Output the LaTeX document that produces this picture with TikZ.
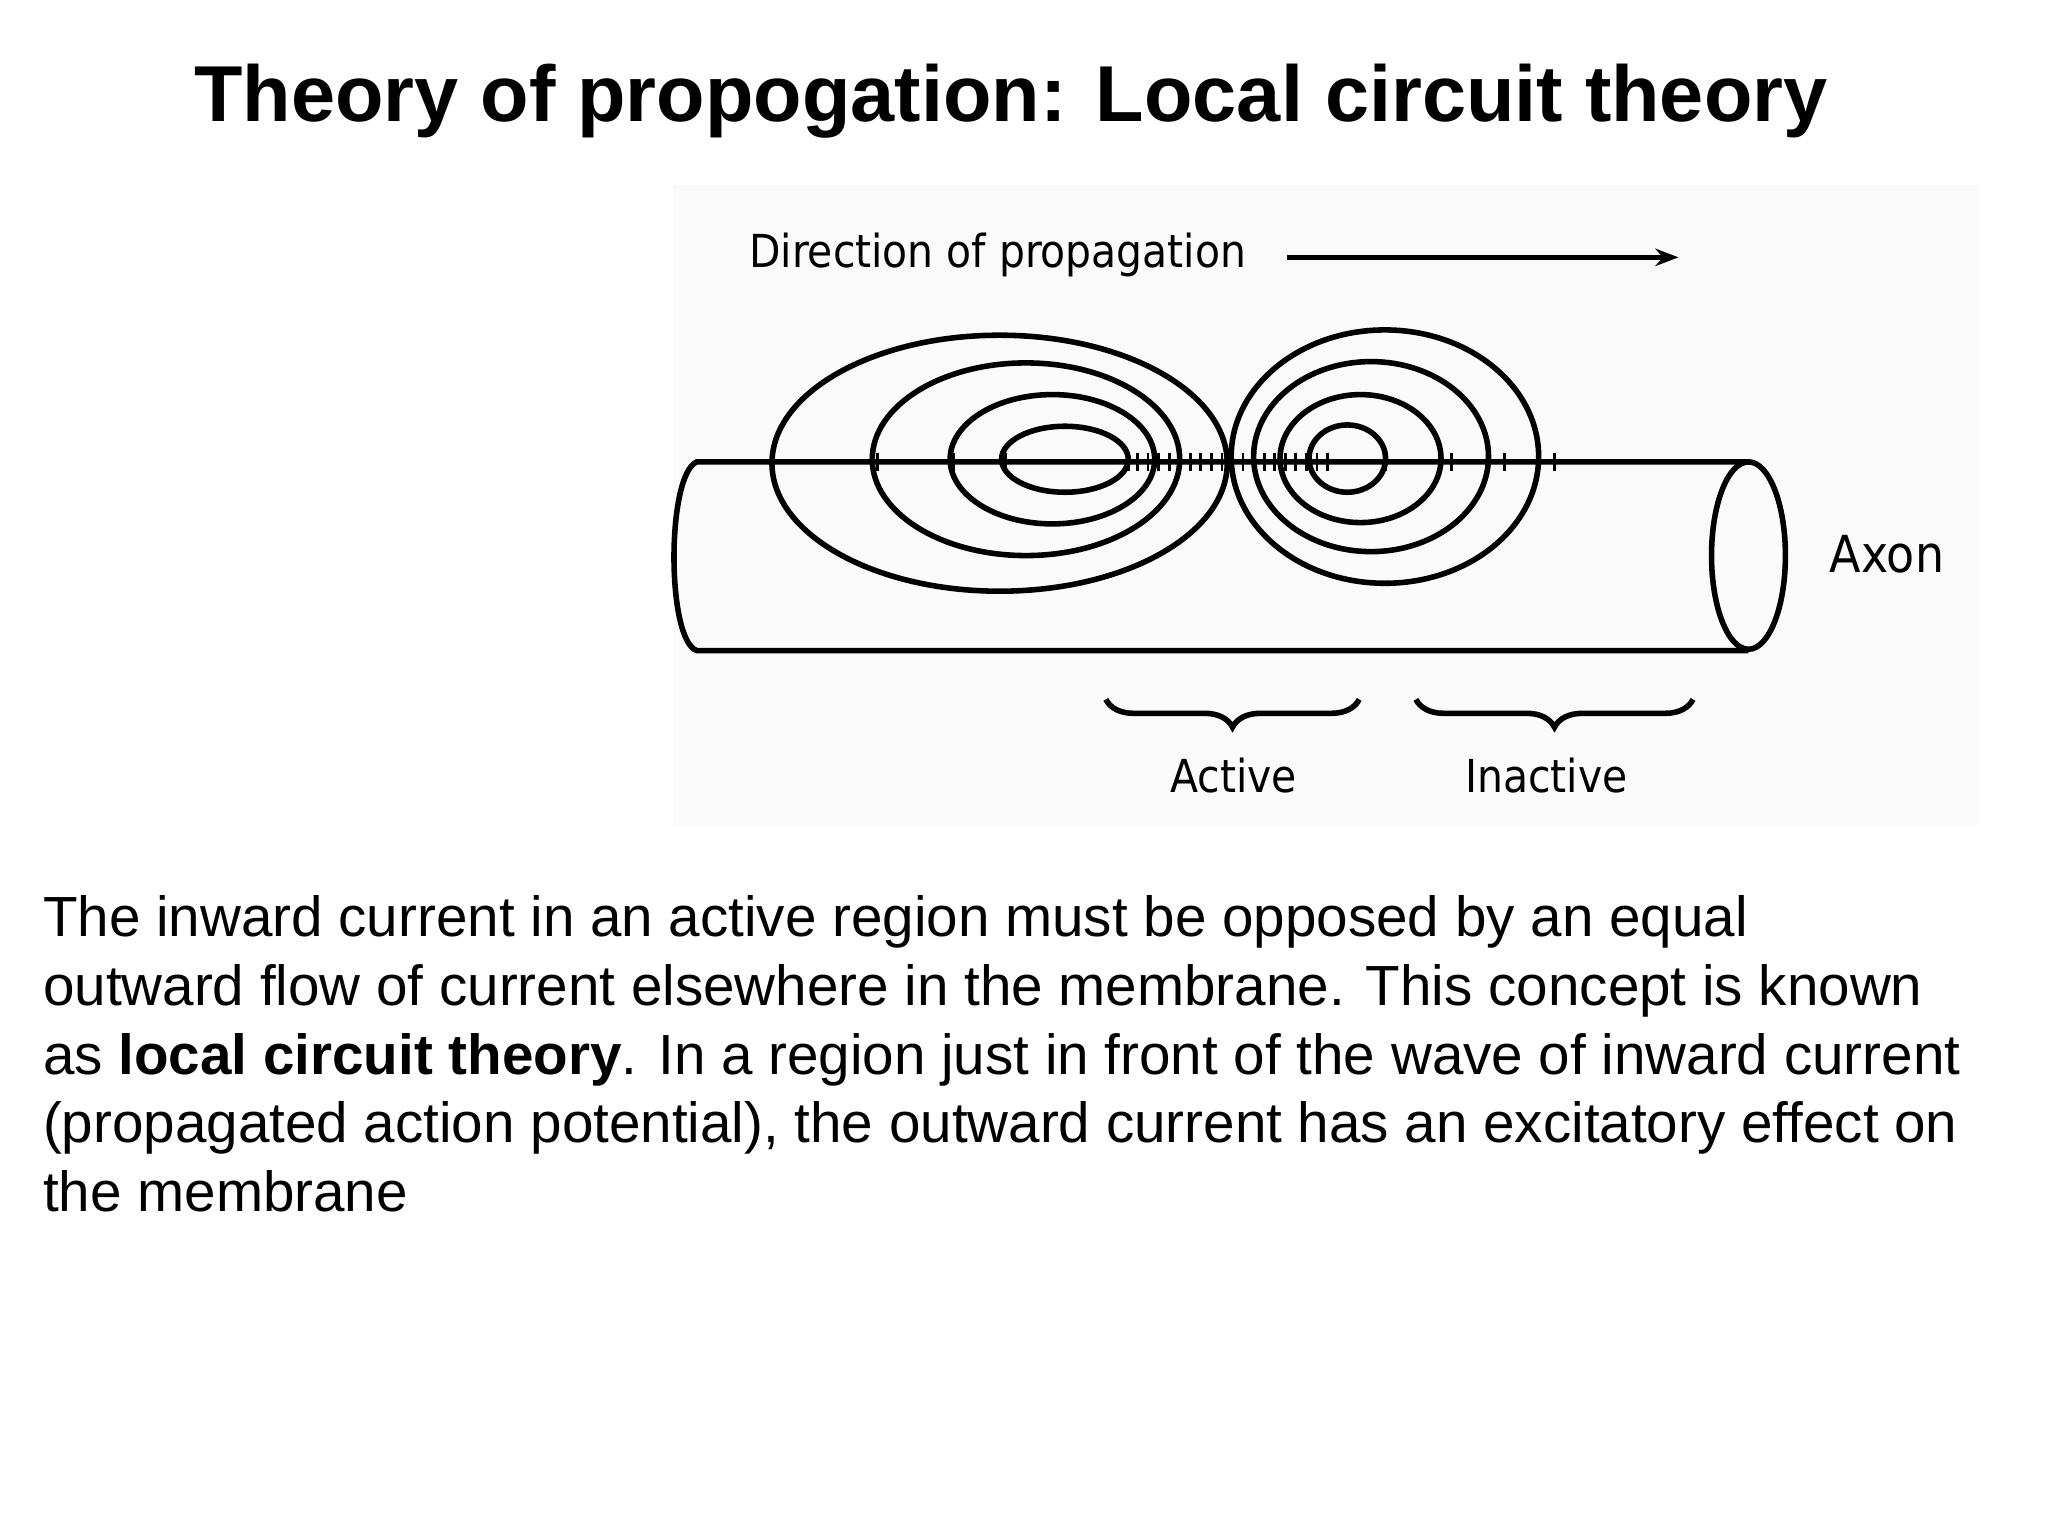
\documentclass[tikz,border=0pt]{standalone}
\usepackage{fontspec}
\setmainfont{Liberation Sans}
\newfontfamily\dia{DejaVu Sans Condensed}
\usetikzlibrary{decorations.pathreplacing,arrows.meta}
\tikzset{
 ln/.style={line width=1.2pt,black},
 body/.style={anchor=base west,inner sep=0pt,font=\fontsize{12.2}{14}\selectfont},
 lab/.style={inner sep=0pt,font=\dia\fontsize{9.8}{12}\selectfont},
 brc/.style={ln,decorate,decoration={brace,amplitude=6pt,mirror}}
}
\begin{document}
\begin{tikzpicture}[x=0.1mm,y=-0.1mm]
\useasboundingbox (0,0) rectangle (1552,1164);
\fill[black!2] (510,140) rectangle (1500,625);
\node[inner sep=0pt,font=\bfseries\fontsize{17.1}{20}\selectfont] (title) at (766,77) {Theory of propogation: Local circuit theory};
% direction
\node[lab,anchor=west] (dir) at (567,193) {Direction of propagation};
\coordinate (dirend) at (1272,195);
\draw[ln,-{Stealth[length=5pt]}] (975,195) -- (dirend);
% axon
\draw[ln] (1325,350) -- (528,350) .. controls (505,360) and (505,485) .. (528,493) -- (1325,493);
\draw[ln] (1325,421) ellipse [x radius=2.8mm, y radius=7.1mm];
% loops left
\draw[ln] (757.5,351) ellipse [x radius=17.25mm, y radius=9.7mm];
\draw[ln] (777.5,348) ellipse [x radius=11.65mm, y radius=7.3mm];
\draw[ln] (797.5,348) ellipse [x radius=7.75mm, y radius=4.9mm];
\draw[ln] (807,348) ellipse [x radius=4.8mm, y radius=2.5mm];
% loops right
\draw[ln] (1049.5,346) ellipse [x radius=11.65mm, y radius=9.6mm];
\draw[ln] (1039,346) ellipse [x radius=8.9mm, y radius=7.2mm];
\draw[ln] (1031,347.5) ellipse [x radius=6.1mm, y radius=4.85mm];
\draw[ln] (1021,347.5) ellipse [x radius=2.9mm, y radius=2.55mm];
% ticks
\foreach \x in {585,665,723,762,855,862,870,878,886,894,902,910,918,926,934,942,950,958,966,974,982,990,998,1006,1050,1100,1140,1178}
  \draw[line width=0.6pt] (\x,343) -- (\x,357);
% braces
\node[lab] (act) at (935,588) {Active};
\node[lab] (inact) at (1172,588) {Inactive};
\draw[brc] (838,530) -- (1030,530);
\draw[brc] (1073,530) -- (1283,530);
\node[lab,font=\dia\fontsize{11}{14}\selectfont] (axon) at (1430,420) {Axon};
% body
\node[body] (l1) at (32,710) {The inward current in an active region must be opposed by an equal};
\node[body] (l2) at (32,762) {outward flow of current elsewhere in the membrane. This concept is known};
\node[body] (l3) at (32,814) {as \textbf{local circuit theory}. In a region just in front of the wave of inward current};
\node[body] (l4) at (32,866) {(propagated action potential), the outward current has an excitatory effect on};
\node[body] (l5) at (32,918) {the membrane};
\end{tikzpicture}
\end{document}
